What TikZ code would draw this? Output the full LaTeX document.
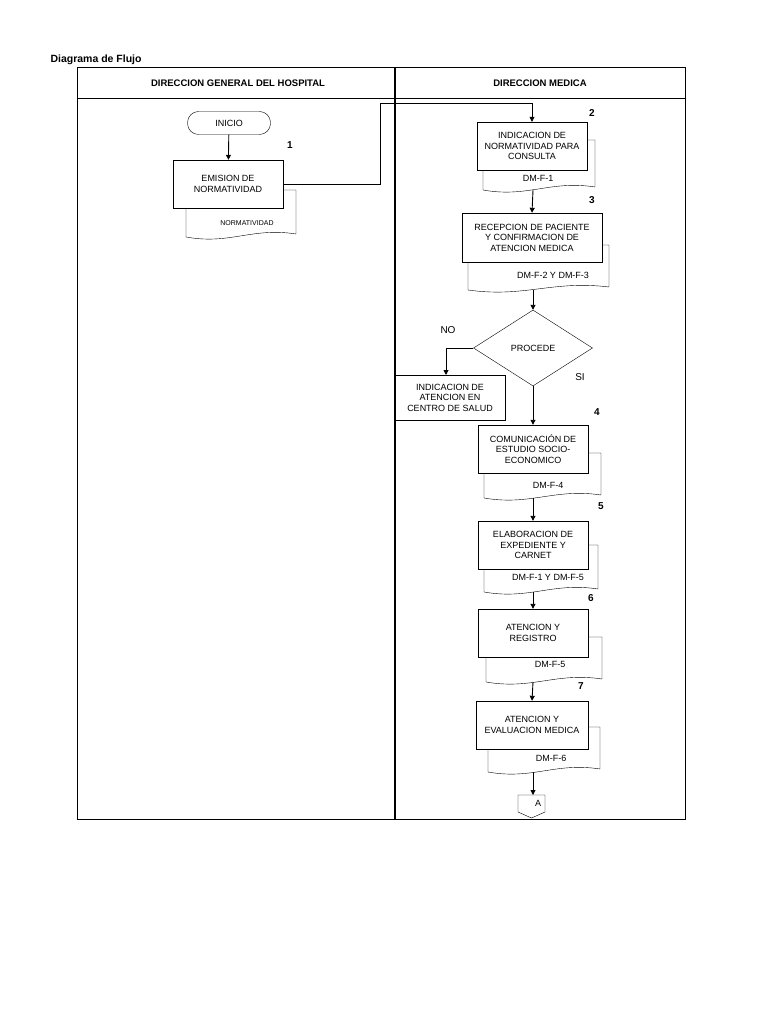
\documentclass[tikz,border=0pt]{standalone}
\usepackage{fontspec}
\setmainfont{Liberation Sans}
\usetikzlibrary{shapes.geometric,arrows.meta}
\newcommand{\mydoc}[4]{%
  \draw[fill=white] (#1,#2) -- (#3,#2) -- (#3,#4-3) .. controls ({#1+(#3-#1)*0.6},{#4-10}) and ({#1+(#3-#1)*0.4},{#4+8}) .. (#1,#4) -- cycle;}
\tikzset{
  box/.style={draw,fill=white,align=center,inner sep=1pt,font=\fontsize{9}{10.5}\selectfont},
  lbl/.style={font=\fontsize{9}{10.5}\selectfont},
  num/.style={font=\bfseries\fontsize{10}{12}\selectfont},
  arr/.style={-{Triangle[length=5pt,width=5pt]},line width=0.9pt},
}
\begin{document}
\begin{tikzpicture}[x=1pt,y=-1pt]
\useasboundingbox (0,0) rectangle (768,1024);
\fill[white] (0,0) rectangle (768,1024);
\node[anchor=west,font=\bfseries\fontsize{10.5}{12}\selectfont] (title) at (47,60) {Diagrama de Flujo};
\draw[line width=1pt] (77,68) rectangle (685,819);
\draw[line width=0.8pt] (77,98) -- (685,98);
\draw[line width=2pt] (395,68) -- (395,819);
\node[font=\bfseries\fontsize{9.5}{11}\selectfont] (h1) at (238,83) {DIRECCION GENERAL DEL HOSPITAL};
\node[font=\bfseries\fontsize{9.5}{11}\selectfont] (h2) at (540,83) {DIRECCION MEDICA};
% inicio
\node[draw,rounded corners=11pt,minimum width=83pt,minimum height=23pt,lbl] (ini) at (229,123) {INICIO};
% box 1
\mydoc{186}{190}{296}{237}
\node[font=\fontsize{7}{8}\selectfont] (d1) at (247,223) {NORMATIVIDAD};
\node[box,minimum width=110pt,minimum height=48pt] (b1) at (228,184) {EMISION DE\\NORMATIVIDAD};
\node[num] (n1) at (290,145) {1};
\draw[arr] (ini) -- (b1);
% box 2
\mydoc{483}{140}{595}{190}
\node[lbl] (d2) at (538,178) {DM-F-1};
\node[box,minimum width=110pt,minimum height=48pt] (b2) at (532,146) {INDICACION DE\\NORMATIVIDAD PARA\\CONSULTA};
\node[num] (n2) at (592,113) {2};
\coordinate (c1) at (380,184);
\draw[arr,line width=0.6pt] (b1.east) -- (c1) -- (380,103) -| (b2.north);
% box 3
\mydoc{468}{245}{609}{290}
\node[lbl] (d3) at (553,275) {DM-F-2 Y DM-F-3};
\node[box,minimum width=140pt,minimum height=49pt] (b3) at (532,237.5) {RECEPCION DE PACIENTE\\Y CONFIRMACION DE\\ATENCION MEDICA};
\node[num] (n3) at (592,200) {3};
\coordinate (e2) at (533,190);
\draw[arr] (e2) -- (b3.north);
% diamond
\node[draw,diamond,fill=white,minimum width=119pt,minimum height=76pt,inner sep=0pt,lbl,aspect=1.6] (dia) at (533,348) {PROCEDE};
\coordinate (e3) at (533,290);
\draw[arr] (e3) -- (dia.north);
\node[lbl,font=\fontsize{10}{12}\selectfont] (no) at (448,330) {NO};
\node[lbl,font=\fontsize{10}{12}\selectfont] (si) at (580,377) {SI};
\node[box,minimum width=110pt,minimum height=45pt] (bn) at (450,397.5) {INDICACION DE\\ATENCION EN\\CENTRO DE SALUD};
\draw[arr] (dia.west) -- (446,348) -- (446,375);
% box 4
\mydoc{484}{453}{601}{498}
\node[lbl] (d4) at (548,485) {DM-F-4};
\node[box,minimum width=110pt,minimum height=48pt] (b4) at (533,449) {COMUNICACIÓN DE\\ESTUDIO SOCIO-\\ECONOMICO};
\node[num] (n4) at (597,412) {4};
\draw[arr] (dia.south) -- (b4.north);
% box 5
\mydoc{484}{545}{598}{592}
\node[lbl] (d5) at (548,577) {DM-F-1 Y DM-F-5};
\node[box,minimum width=110pt,minimum height=48pt] (b5) at (533,545) {ELABORACION DE\\EXPEDIENTE Y\\CARNET};
\node[num] (n5) at (601,506) {5};
\coordinate (e4) at (533,498);
\draw[arr] (e4) -- (b5.north);
% box 6
\mydoc{486}{637}{602}{682}
\node[lbl] (d6) at (550,664) {DM-F-5};
\node[box,minimum width=110pt,minimum height=48pt] (b6) at (533,633) {ATENCION Y\\REGISTRO};
\node[num] (n6) at (591,598) {6};
\coordinate (e5) at (533,592);
\draw[arr] (e5) -- (b6.north);
% box 7
\mydoc{488}{727}{600}{772}
\node[lbl] (d7) at (551,758) {DM-F-6};
\node[box,minimum width=112pt,minimum height=48pt] (b7) at (532,725) {ATENCION Y\\EVALUACION MEDICA};
\node[num] (n7) at (581,686) {7};
\coordinate (e6) at (533,682);
\draw[arr] (e6) -- (b7.north);
% connector A
\draw[fill=white] (518,795) -- (545,795) -- (545,812) -- (531.5,818) -- (518,812) -- cycle;
\node[lbl] (a) at (538,803) {A};
\coordinate (e7) at (533,772);
\coordinate (ta) at (533,795);
\draw[arr] (e7) -- (ta);
\end{tikzpicture}
\end{document}
